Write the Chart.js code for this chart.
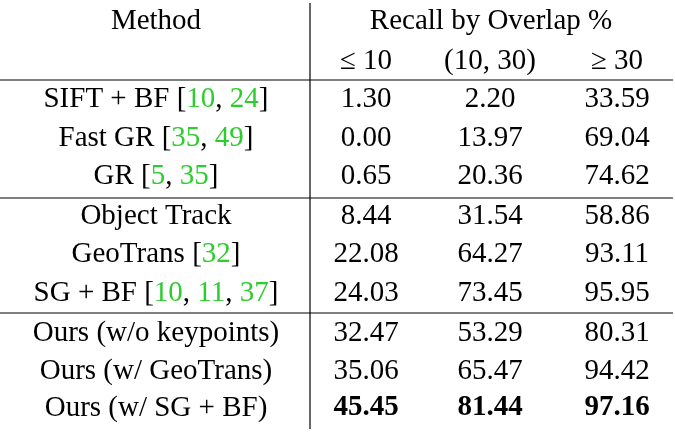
<!DOCTYPE html>
<html><head><meta charset="utf-8">
<script src="https://cdn.jsdelivr.net/npm/chart.js@4"></script>
<style>html,body{margin:0;padding:0;background:#fff}#w{width:675px;height:432px}</style>
</head><body><div id="w"><canvas id="c"></canvas></div>
<script>
const methods = [
  [["SIFT + BF [",0],["10",1],[", ",0],["24",1],["]",0]],
  [["Fast GR [",0],["35",1],[", ",0],["49",1],["]",0]],
  [["GR [",0],["5",1],[", ",0],["35",1],["]",0]],
  [["Object Track",0]],
  [["GeoTrans [",0],["32",1],["]",0]],
  [["SG + BF [",0],["10",1],[", ",0],["11",1],[", ",0],["37",1],["]",0]],
  [["Ours (w/o keypoints)",0]],
  [["Ours (w/ GeoTrans)",0]],
  [["Ours (w/ SG + BF)",0]]
];
const overlapLow  = [1.30, 0.00, 0.65, 8.44, 22.08, 24.03, 32.47, 35.06, 45.45];
const overlapMid  = [2.20, 13.97, 20.36, 31.54, 64.27, 73.45, 53.29, 65.47, 81.44];
const overlapHigh = [33.59, 69.04, 74.62, 58.86, 93.11, 95.95, 80.31, 94.42, 97.16];
const colHeaders = ["≤ 10", "(10, 30)", "≥ 30"];
const boldRow = 8;
// layout (pixel-space scale units)
const colX = [156, 366, 490, 617];
const headY = [21, 61];
const rowY = [99, 138, 176, 216, 254, 293, 333, 371, 408];
const hLines = [80, 198, 313];

const FONT = '29px "Liberation Serif", serif';
const BFONT = 'bold 29px "Liberation Serif", serif';
const tablePlugin = {
  id: 'table',
  afterDraw(chart) {
    const ctx = chart.ctx, xs = chart.scales.x, ys = chart.scales.y;
    const X = v => xs.getPixelForValue(v), Y = v => ys.getPixelForValue(v);
    ctx.save();
    ctx.strokeStyle = '#000'; ctx.lineWidth = 1.2;
    ctx.beginPath(); ctx.moveTo(X(310), Y(3)); ctx.lineTo(X(310), Y(429)); ctx.stroke();
    hLines.forEach(h => { ctx.beginPath(); ctx.moveTo(X(0), Y(h)); ctx.lineTo(X(673), Y(h)); ctx.stroke(); });
    ctx.textBaseline = 'middle'; ctx.fillStyle = '#000'; ctx.font = FONT; ctx.textAlign = 'center';
    ctx.fillText('Method', X(156), Y(headY[0]));
    ctx.fillText('Recall by Overlap %', X(491), Y(headY[0]));
    colHeaders.forEach((t, i) => ctx.fillText(t, X(colX[i + 1]), Y(headY[1])));
    methods.forEach((parts, r) => {
      ctx.font = FONT; ctx.textAlign = 'left';
      const w = parts.reduce((s, p) => s + ctx.measureText(p[0]).width, 0);
      let x = X(colX[0]) - w / 2;
      parts.forEach(p => { ctx.fillStyle = p[1] ? '#2ecc2e' : '#000'; ctx.fillText(p[0], x, Y(rowY[r])); x += ctx.measureText(p[0]).width; });
      ctx.fillStyle = '#000'; ctx.textAlign = 'center'; ctx.font = r === boldRow ? BFONT : FONT;
      [overlapLow, overlapMid, overlapHigh].forEach((arr, c) => ctx.fillText(arr[r].toFixed(2), X(colX[c + 1]), Y(rowY[r])));
    });
    ctx.restore();
  }
};
new Chart(document.getElementById('c'), {
  type: 'scatter',
  data: { datasets: [{ data: [], pointRadius: 0 }] },
  options: {
    responsive: true, maintainAspectRatio: false, animation: false,
    layout: { padding: 0 },
    plugins: { legend: { display: false }, tooltip: { enabled: false } },
    scales: {
      x: { type: 'linear', min: 0, max: 675, display: false },
      y: { type: 'linear', min: 0, max: 432, reverse: true, display: false }
    }
  },
  plugins: [tablePlugin]
});
</script></body></html>
